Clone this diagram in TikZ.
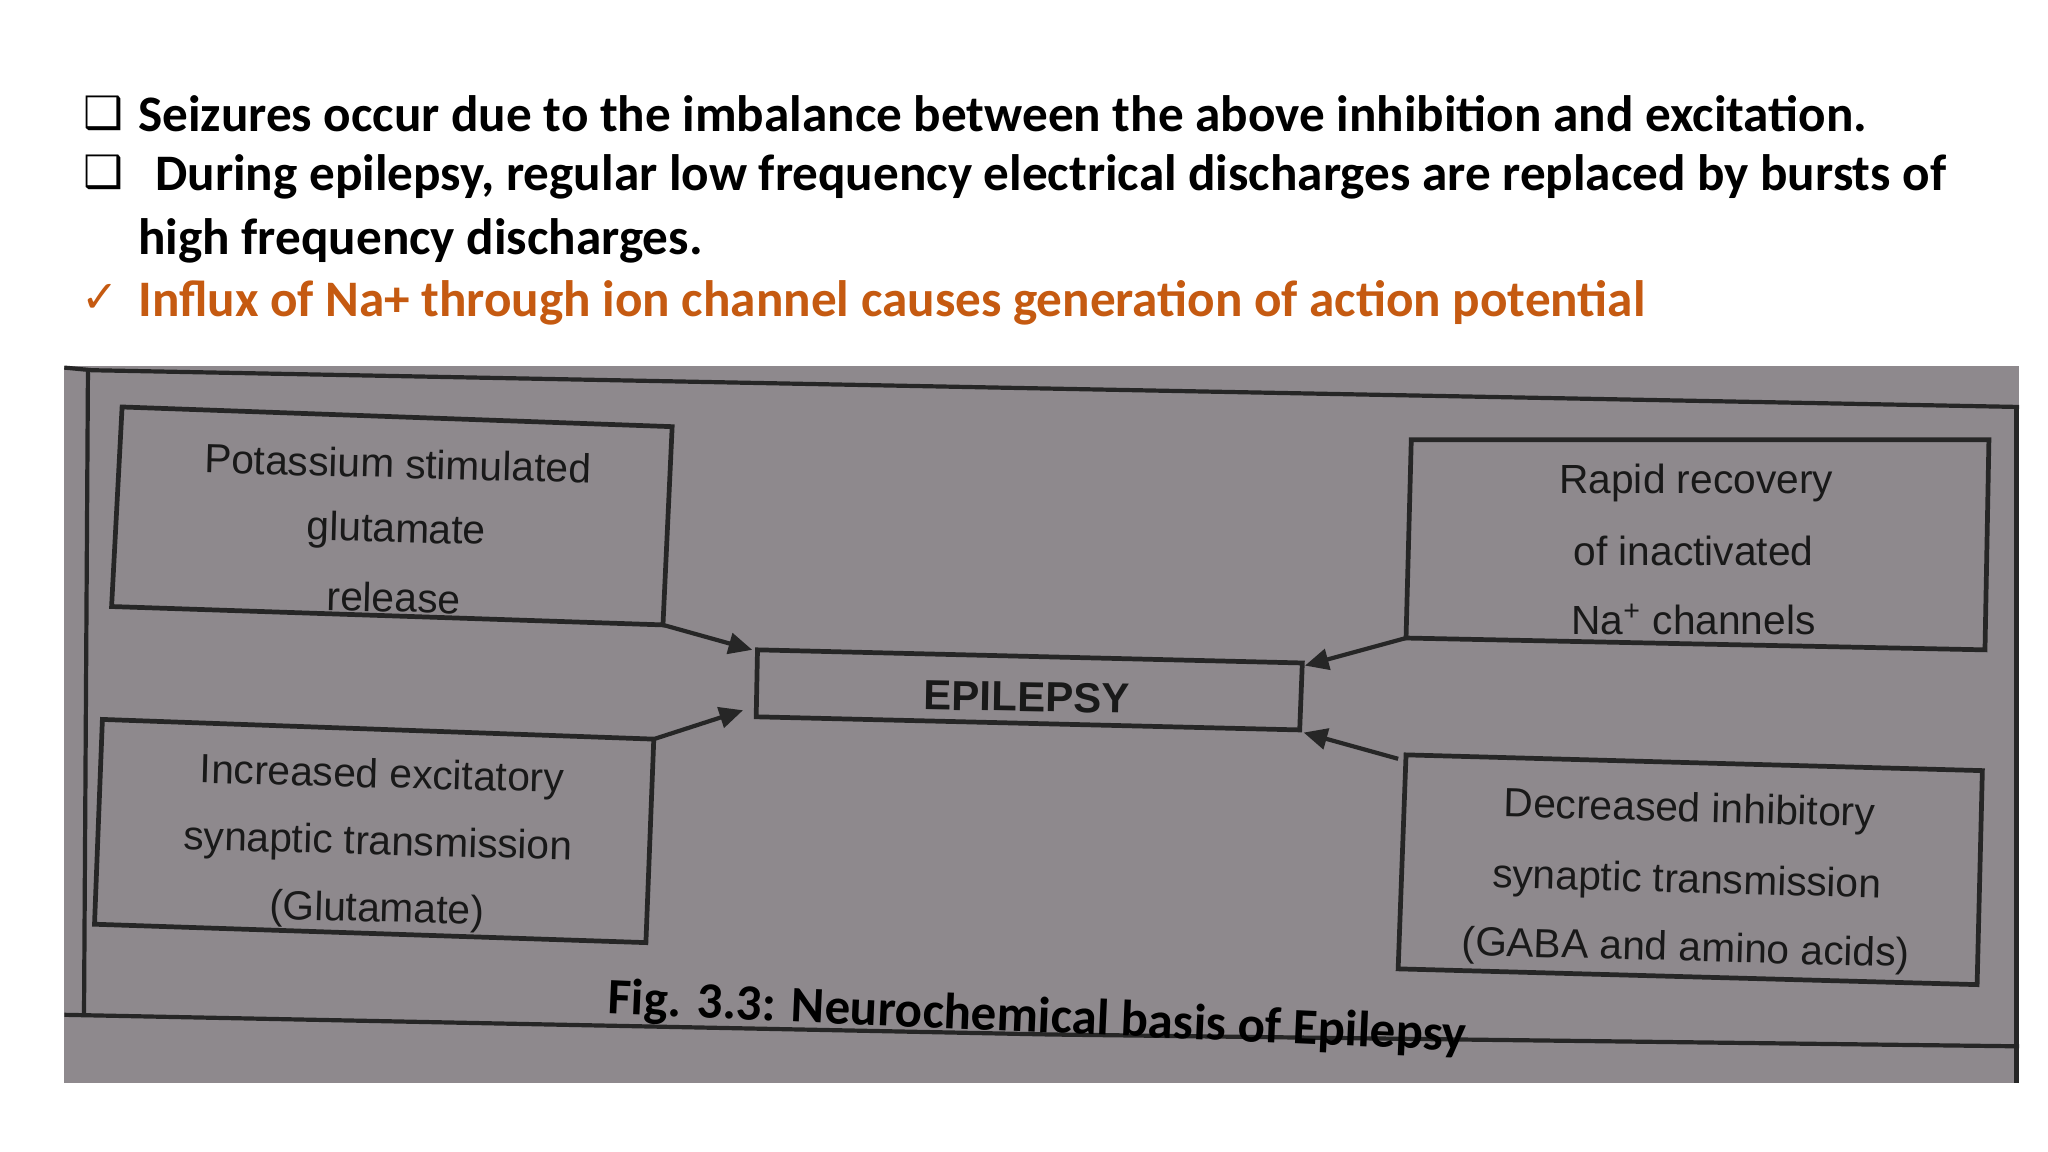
\documentclass[tikz,border=0pt]{standalone}
\usepackage{fontspec}
\setmainfont{Carlito}
\newfontfamily\arialf{Liberation Sans}
\newfontfamily\djv{DejaVu Sans}
\usetikzlibrary{arrows.meta}
\definecolor{photo}{HTML}{8E898D}
\definecolor{orng}{HTML}{C55A11}
\tikzset{
  bx/.style={draw=black!85, line width=1.8pt},
  fr/.style={draw=black!85, line width=1.6pt},
  lbl/.style={font=\arialf\fontsize{15.5}{18}\selectfont, text=black!90, inner sep=0pt},
  bul/.style={font=\bfseries\fontsize{19.5}{22}\selectfont, anchor=base west, inner sep=0pt},
  sym/.style={font=\djv\mdseries\fontsize{17}{20}\selectfont, anchor=base west, inner sep=0pt},
  arr/.style={draw=black!85, line width=1.6pt, -{Triangle[length=9pt,width=8pt]}}
}
\begin{document}
\begin{tikzpicture}[x=0.5pt,y=-0.5pt]
\useasboundingbox (0,0) rectangle (1560,877.5);
% text bullets
\node[sym] (b1) at (63,98) {❑};
\node[bul] (t1) at (105,100) {Seizures occur due to the imbalance between the above inhibition and excitation.};
\node[sym] (b2) at (63,143) {❑};
\node[bul] (t2) at (118,145) {During epilepsy, regular low frequency electrical discharges are replaced by bursts of};
\node[bul] (t3) at (105,194) {high frequency discharges.};
\node[sym,text=orng] (b3) at (62,238) {✓};
\node[bul,text=orng] (t4) at (105,241) {Influx of Na+ through ion channel causes generation of action potential};
% photo
\fill[photo] (49,279) rectangle (1538,825);
\draw[fr] (49,280) -- (70,282) -- (800,296) -- (1538,310);
\draw[fr] (67,282) -- (64,772);
\draw[fr] (49,773) -- (800,788) -- (1538,797);
\draw[fr] (1536,310) -- (1536,825);
% boxes
\draw[bx] (93,310) -- (512,325) -- (505,476) -- (85,462) -- cycle;
\draw[bx] (78,548) -- (498,563) -- (492,718) -- (72,704) -- cycle;
\draw[bx] (577,495) -- (992,505) -- (990,556) -- (576,546) -- cycle;
\draw[bx] (1075,335) -- (1515,335) -- (1512,495) -- (1071,486) -- cycle;
\draw[bx] (1071,575) -- (1510,587) -- (1506,750) -- (1065,738) -- cycle;
% labels
\node[lbl,rotate=-1.5] (p1) at (303,353) {Potassium stimulated};
\node[lbl,rotate=-1.5] (p2) at (302,405) {glutamate};
\node[lbl,rotate=-1.5] (p3) at (300,455) {release};
\node[lbl,rotate=-1.5] (i1) at (291,592) {Increased excitatory};
\node[lbl,rotate=-1.5] (i2) at (288,643) {synaptic transmission};
\node[lbl,rotate=-1.5] (i3) at (287,694) {(Glutamate)};
\node[lbl] (r1) at (1292,368) {Rapid recovery};
\node[lbl] (r2) at (1290,420) {of inactivated};
\node[lbl] (r3) at (1290,472) {Na\textsuperscript{+} channels};
\node[lbl,rotate=-1.5] (d1) at (1287,618) {Decreased inhibitory};
\node[lbl,rotate=-1.5] (d2) at (1285,672) {synaptic transmission};
\node[lbl,rotate=-1.5] (d3) at (1284,724) {(GABA and amino acids)};
\node[lbl,font=\arialf\bfseries\fontsize{16}{18}\selectfont,rotate=-1] (ep) at (782,531) {EPILEPSY};
\node[font=\bfseries\fontsize{19.4}{22}\selectfont,rotate=-2.5,inner sep=0pt] (cap) at (790,776) {Fig. 3.3: Neurochemical basis of Epilepsy};
% arrows
\coordinate (a1s) at (505,476); \coordinate (a1e) at (573,495);
\coordinate (a2s) at (498,563); \coordinate (a2e) at (566,541);
\coordinate (a3s) at (1071,486); \coordinate (a3e) at (994,507);
\coordinate (a4s) at (1065,578); \coordinate (a4e) at (993,558);
\draw[arr] (a1s) -- (a1e);
\draw[arr] (a2s) -- (a2e);
\draw[arr] (a3s) -- (a3e);
\draw[arr] (a4s) -- (a4e);
\end{tikzpicture}
\end{document}
